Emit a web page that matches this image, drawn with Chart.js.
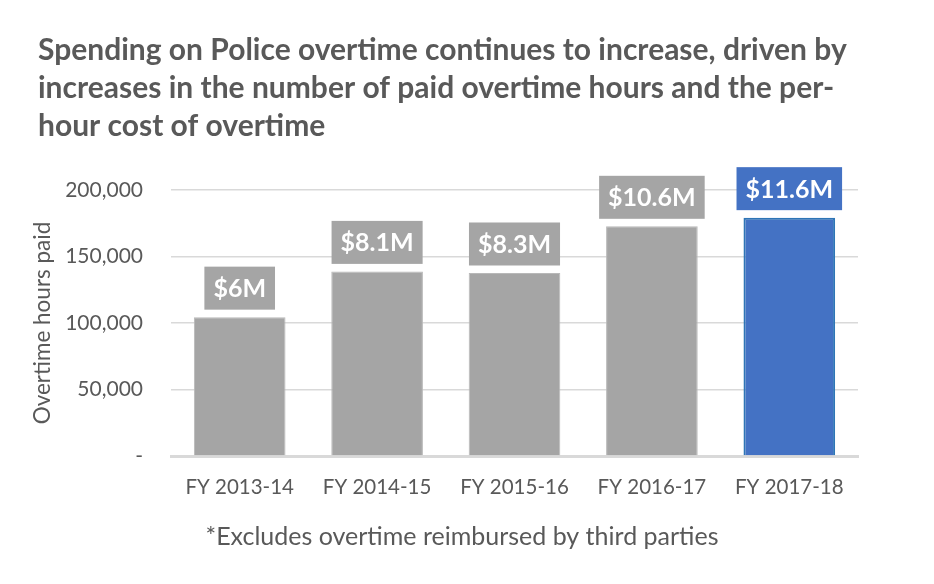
<!DOCTYPE html>
<html>
<head>
<meta charset="utf-8">
<script src="https://cdn.jsdelivr.net/npm/chart.js@4.4.0/dist/chart.umd.min.js"></script>
<style>
  html, body { margin: 0; padding: 0; background: #fff; }
  #wrap { width: 934px; height: 584px; position: relative; }
</style>
</head>
<body>
<div id="wrap"><canvas id="overtime"></canvas></div>
<script>
// fiscal years and hours paid
const years = ['FY 2013-14', 'FY 2014-15', 'FY 2015-16', 'FY 2016-17', 'FY 2017-18'];
const hoursPaid = [104400, 138800, 137600, 172700, 179200];
const costLabels = ['$6M', '$8.1M', '$8.3M', '$10.6M', '$11.6M'];
const yTicks = [0, 50000, 100000, 150000, 200000];

const titleLines = [
  'Spending on Police overtime continues to increase, driven by',
  'increases in the number of paid overtime hours and the per-',
  'hour cost of overtime'
];
const footnote = '*Excludes overtime reimbursed by third parties';

const grey = '#a5a5a5';
const blue = '#4472c4';
const textCol = '#595959';
const fontFam = 'Lato, "Open Sans", sans-serif';

const barColors = hoursPaid.map((v, i) => i === hoursPaid.length - 1 ? blue : grey);
const barBorders = hoursPaid.map((v, i) => i === hoursPaid.length - 1 ? '#2e75b6' : '#b8b8b8');

// title + footnote drawn straight on the canvas
const textPlugin = {
  id: 'textBits',
  afterDraw(chart) {
    const ctx = chart.ctx;
    ctx.save();
    ctx.fillStyle = textCol;
    ctx.textBaseline = 'middle';
    ctx.textAlign = 'left';
    ctx.font = 'bold 30px ' + fontFam;
    titleLines.forEach((line, i) => {
      ctx.fillText(line, 38, 50 + i * 38);
    });
    ctx.font = '25px ' + fontFam;
    ctx.textAlign = 'center';
    ctx.fillText(footnote, 462, 537);
    ctx.restore();
  }
};

// the boxed $ labels above each bar
const costBoxes = {
  id: 'costBoxes',
  afterDatasetsDraw(chart) {
    const ctx = chart.ctx;
    const meta = chart.getDatasetMeta(0);
    ctx.save();
    ctx.font = 'bold 25px ' + fontFam;
    ctx.textAlign = 'center';
    ctx.textBaseline = 'middle';
    meta.data.forEach((bar, i) => {
      const w = ctx.measureText(costLabels[i]).width + 18;
      const h = 43;
      const bottom = bar.y - 7.5;
      ctx.fillStyle = barColors[i];
      ctx.fillRect(bar.x - w / 2, bottom - h, w, h);
      ctx.fillStyle = '#fff';
      ctx.fillText(costLabels[i], bar.x, bottom - h / 2 + 1);
    });
    ctx.restore();
  }
};

const ctx = document.getElementById('overtime').getContext('2d');
const chart = new Chart(ctx, {
  type: 'bar',
  data: {
    labels: years,
    datasets: [{
      label: 'Overtime hours paid',
      data: hoursPaid,
      backgroundColor: barColors,
      borderColor: barBorders,
      borderWidth: [1, 1, 1, 1, 2],
      barPercentage: 0.667,
      categoryPercentage: 1
    }]
  },
  options: {
    responsive: true,
    maintainAspectRatio: false,
    animation: false,
    layout: {
      padding: { left: 29, right: 76, top: 190, bottom: 86 }
    },
    plugins: {
      legend: { display: false },
      tooltip: { enabled: false }
    },
    scales: {
      x: {
        grid: { display: false, drawTicks: false },
        border: { display: true, color: '#d9d9d9', width: 3 },
        ticks: {
          color: textCol,
          font: { family: fontFam, size: 20.5 },
          padding: 19
        },
        afterFit(scale) { scale.height = 42; }
      },
      y: {
        min: 0,
        max: 200000,
        afterBuildTicks(scale) {
          scale.ticks = yTicks.map(v => ({ value: v }));
        },
        grid: { color: '#d9d9d9', lineWidth: 1.5, drawTicks: false },
        border: { display: false },
        ticks: {
          color: textCol,
          font: { family: fontFam, size: 21 },
          padding: 28,
          callback: v => v === 0 ? '-' : v.toLocaleString('en-US')
        },
        title: {
          display: true,
          text: 'Overtime hours paid',
          color: textCol,
          font: { family: fontFam, size: 22.5 },
          padding: 0
        },
        afterFit(scale) { scale.width = 142; }
      }
    }
  },
  plugins: [textPlugin, costBoxes]
});
</script>
</body>
</html>
